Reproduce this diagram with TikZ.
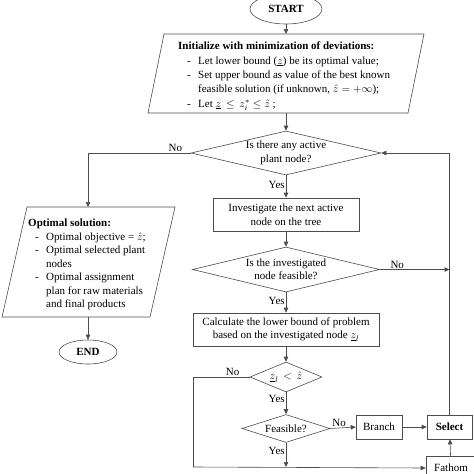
\documentclass[tikz,border=0pt]{standalone}
\usepackage{fontspec}
\setmainfont{Liberation Serif}
\usetikzlibrary{shapes.geometric,arrows.meta}
\newcommand\mydashA{\makebox[20pt][l]{\hspace{9pt}-}}
\newcommand\mydashB{\makebox[18pt][l]{\hspace{7pt}-}}
\begin{document}
\begin{tikzpicture}[x=1pt,y=-1pt,
  font=\fontsize{11}{13.5}\selectfont,
  line/.style={draw=black!70, line width=0.6pt},
  arr/.style={line, -{Triangle[length=5pt,width=4.5pt]}},
  box/.style={draw=black!70, line width=0.6pt, rectangle, inner sep=1pt, align=center},
  dia/.style={draw=black!70, line width=0.6pt, diamond, inner sep=0pt, align=center},
  term/.style={draw=black!70, line width=0.6pt, ellipse, inner sep=0pt, font=\fontsize{11}{13}\selectfont\bfseries},
  txt/.style={inner sep=0pt, align=left, anchor=north west},
  lab/.style={inner sep=1pt}]
\useasboundingbox (0,0) rectangle (474,474);

% terminals
\node[term, minimum width=72pt, minimum height=30pt] (start) at (286,9) {START};
\node[term, minimum width=58pt, minimum height=24pt] (end) at (88,352) {END};

% parallelogram 1
\coordinate (p1n) at (286,34);
\coordinate (p1s) at (286,113);
\draw[line] (164,34) -- (424,34) -- (408,113) -- (148,113) -- cycle;
\node[txt, font=\fontsize{11}{14.3}\selectfont] (p1t) at (178,42) {\textbf{Initialize with minimization of deviations:}\\
\mydashA Let lower bound ($\underline{z}$) be its optimal value;\\
\mydashA Set upper bound as value of the best known\\
\hspace*{20pt}feasible solution (if unknown, $\hat{z} = +\infty$);\\
\mydashA Let $\underline{z}\,\le\, z_i^{*} \le \hat{z}$ ;};

% parallelogram 2
\coordinate (p2n) at (88,207);
\coordinate (p2s) at (88,317);
\draw[line] (27,207) -- (175,207) -- (150,317) -- (2,317) -- cycle;
\node[txt] (p2t) at (28,219) {\textbf{Optimal solution:}\\
\mydashB Optimal objective = $\hat{z}$;\\
\mydashB Optimal selected plant\\
\hspace*{18pt}nodes\\
\mydashB Optimal assignment\\
\hspace*{18pt}plan for raw materials\\
\hspace*{18pt}and final products};

% main column
\node[dia, aspect=4.3, minimum width=190pt, minimum height=44pt] (d1) at (286,153) {Is there any active\\plant node?};
\node[box, minimum width=146pt, minimum height=33pt] (b1) at (286,214.5) {Investigate the next active\\node on the tree};
\node[dia, aspect=4.15, minimum width=187pt, minimum height=45pt] (d2) at (286,269.5) {Is the investigated\\node feasible?};
\node[box, minimum width=186pt, minimum height=33pt] (b2) at (286,329.5) {Calculate the lower bound of problem\\based on the investigated node $\underline{z}_l$};
\node[dia, aspect=2.4, minimum width=72pt, minimum height=30pt] (d3) at (286,377) {$\underline{z}_l\,<\,\hat{z}$};
\node[dia, aspect=3.1, minimum width=88pt, minimum height=28pt] (d4) at (286,428.5) {Feasible?};
\node[box, minimum width=46pt, minimum height=24pt] (branch) at (379,427) {Branch};
\node[box, minimum width=45pt, minimum height=24pt, font=\fontsize{11}{13}\selectfont\bfseries] (select) at (449.5,427) {Select};
\node[box, minimum width=50pt, minimum height=24pt] (fathom) at (451,468) {Fathom};

\coordinate (j1) at (88,153);
\coordinate (j2) at (449.5,153);
\coordinate (j3) at (449.5,269.5);
\coordinate (j4) at (193,377);
\coordinate (j5) at (193,467);
\coordinate (j6) at (286,467);

% connectors
\draw[arr] (start) -- (p1n);
\draw[arr] (p1s) -- (d1.north);
\draw[arr] (d1.south) -- node[lab, left, pos=0.45] {Yes} (b1.north);
\draw[arr] (b1.south) -- (d2.north);
\draw[arr] (d2.south) -- node[lab, left, pos=0.4] {Yes} (b2.north);
\draw[arr] (b2.south) -- (d3.north);
\draw[arr] (d3.south) -- node[lab, left, pos=0.3] {Yes} (d4.north);
\draw[arr] (d4.south) -- node[lab, left, pos=0.35] {Yes} (j6);
\draw[line] (d3.west) -- node[lab, above, pos=0.3] {No} (j4) -- (j5);
\draw[arr] (j5) -- (fathom.west);
\draw[arr] (d4.east) -- node[lab, above, pos=0.35] {No} (branch.west);
\draw[arr] (branch) -- (select);
\draw[arr] (fathom) -- (select);
\draw[line] (select.north) -- (j2);
\draw[arr] (j2) -- (d1.east);
\draw[arr] (d2.east) -- node[lab, above, pos=0.25] {No} (j3);
\draw[line] (d1.west) -- node[lab, above, pos=0.15] {No} (j1);
\draw[arr] (j1) -- (p2n);
\draw[arr] (p2s) -- (end.north);
\end{tikzpicture}
\end{document}
